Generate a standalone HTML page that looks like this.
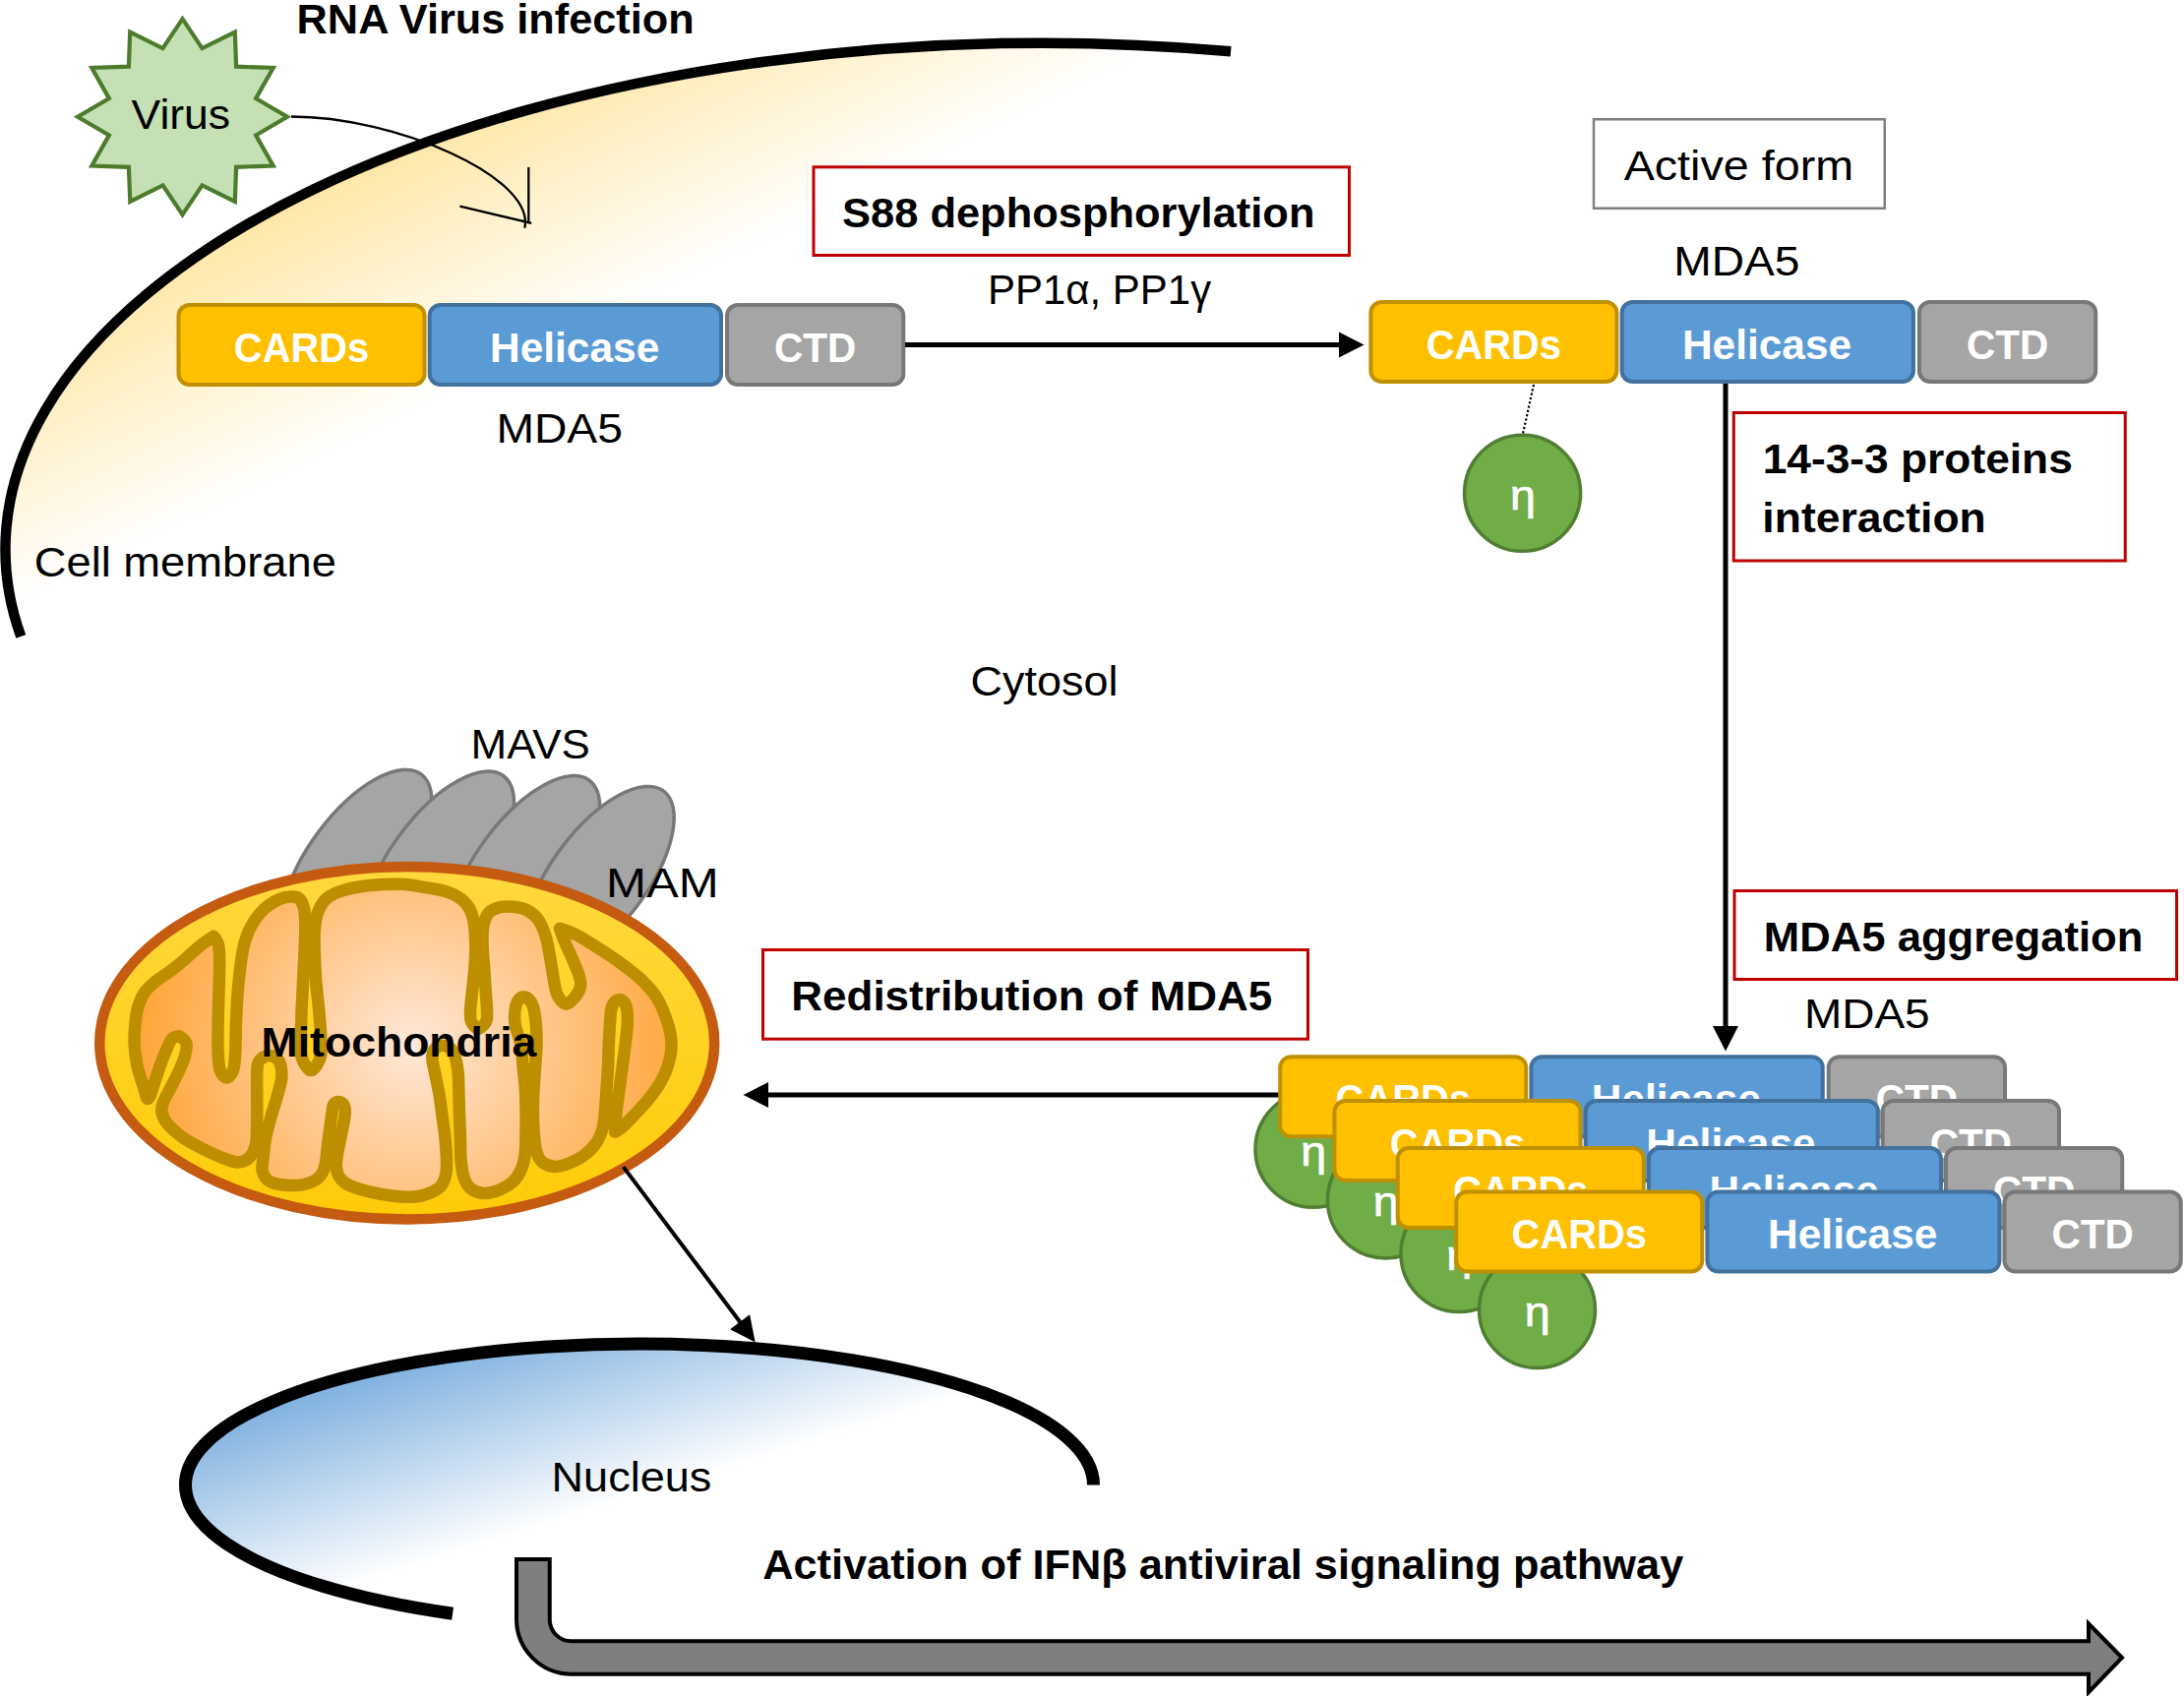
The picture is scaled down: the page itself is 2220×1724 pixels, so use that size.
<!DOCTYPE html>
<html><head><meta charset="utf-8"><style>html,body{margin:0;padding:0;background:#fff}svg{display:block}</style></head><body>
<svg width="2220" height="1724" viewBox="0 0 2220 1724" font-family="Liberation Sans, sans-serif">
<defs>
<linearGradient id="gm" gradientUnits="userSpaceOnUse" x1="0" y1="0" x2="1" y2="1" gradientTransform="translate(5.5,43.799999999999955) scale(2109.6,1029.0)"><stop offset="0" stop-color="#FFCD45"/><stop offset="0.28" stop-color="#fff"/></linearGradient>
<linearGradient id="gn" gradientUnits="userSpaceOnUse" x1="0" y1="0" x2="1" y2="1" gradientTransform="translate(188.5,1366.0) scale(923.0,287.0)"><stop offset="0" stop-color="#4A90D2"/><stop offset="0.52" stop-color="#fff"/></linearGradient>
<linearGradient id="gy" x1="0" y1="0" x2="0" y2="1"><stop offset="0" stop-color="#FFD83D"/><stop offset="1" stop-color="#FFCB08"/></linearGradient>
<radialGradient id="gc" gradientUnits="userSpaceOnUse" cx="420" cy="1062" r="300"><stop offset="0" stop-color="#FFE8DA"/><stop offset="1" stop-color="#FFA02C"/></radialGradient>
</defs>
<rect width="2220" height="1724" fill="#fff"/>
<path d="M1060.3,558.3 L1251.1,52.3 A1054.8,514.5 0 0 0 21.3,647.1 Z" fill="url(#gm)"/>
<path d="M1251.1,52.3 A1054.8,514.5 0 0 0 21.3,647.1" fill="none" stroke="#000" stroke-width="10.5"/>
<polygon points="185.5,19.2 205.5,49.1 238.8,32.6 240.1,67.7 277.7,69.0 260.1,100.1 292.0,118.8 260.1,137.4 277.7,168.5 240.1,169.8 238.8,204.9 205.5,188.4 185.5,218.2 165.5,188.4 132.3,204.9 130.9,169.8 93.3,168.5 110.9,137.4 79.0,118.8 110.9,100.1 93.3,69.0 130.9,67.7 132.2,32.6 165.5,49.1" fill="#C5E0B4" stroke="#4C7C2B" stroke-width="4.2" stroke-linejoin="miter"/>
<text x="133.56" y="131.2" font-size="43" fill="#000" textLength="100.54" lengthAdjust="spacingAndGlyphs">Virus</text>
<path d="M296,118.5 C401.9,118.5 544.5,180 533.3,231.7" fill="none" stroke="#000" stroke-width="2.3"/>
<path d="M467.4,209.6 L540.2,226.9 M537.3,170 L537.3,227.4" fill="none" stroke="#000" stroke-width="2.3"/>
<text x="301.62" y="34.0" font-size="43" fill="#000" font-weight="700" textLength="404.05" lengthAdjust="spacingAndGlyphs">RNA Virus infection</text>
<rect x="181.50" y="310.00" width="250.00" height="81.00" rx="11.0" fill="#FFC000" stroke="#BF9000" stroke-width="4"/>
<text x="237.87" y="367.5" font-size="43" fill="#fff" font-weight="700" textLength="137.27" lengthAdjust="spacingAndGlyphs">CARDs</text>
<rect x="436.70" y="310.00" width="296.30" height="81.00" rx="11.0" fill="#5B9BD5" stroke="#41719C" stroke-width="4"/>
<text x="498.01" y="367.5" font-size="43" fill="#fff" font-weight="700" textLength="172.29" lengthAdjust="spacingAndGlyphs">Helicase</text>
<rect x="739.00" y="310.00" width="179.30" height="81.00" rx="11.0" fill="#A5A5A5" stroke="#787878" stroke-width="4"/>
<text x="786.99" y="367.5" font-size="43" fill="#fff" font-weight="700" textLength="83.37" lengthAdjust="spacingAndGlyphs">CTD</text>
<text x="504.40" y="450.2" font-size="43" fill="#000" textLength="128.54" lengthAdjust="spacingAndGlyphs">MDA5</text>
<line x1="920.0" y1="350.5" x2="1363.0" y2="350.5" stroke="#000" stroke-width="5"/>
<polygon points="1386.5,350.5 1361.0,363.5 1361.0,337.5" fill="#000"/>
<rect x="827.00" y="169.80" width="544.50" height="89.70" fill="#fff" stroke="#C00000" stroke-width="3"/>
<text x="856.00" y="231.2" font-size="43" fill="#000" font-weight="700" textLength="480.45" lengthAdjust="spacingAndGlyphs">S88 dephosphorylation</text>
<text x="1004.06" y="308.8" font-size="43" fill="#000" textLength="227.08" lengthAdjust="spacingAndGlyphs">PP1α, PP1γ</text>
<rect x="1620.00" y="121.25" width="295.75" height="90.50" fill="#fff" stroke="#7F7F7F" stroke-width="2.5"/>
<text x="1650.66" y="182.5" font-size="43" fill="#000" textLength="233.42" lengthAdjust="spacingAndGlyphs">Active form</text>
<text x="1701.21" y="280.0" font-size="43" fill="#000" textLength="128.22" lengthAdjust="spacingAndGlyphs">MDA5</text>
<line x1="1754.0" y1="388.0" x2="1754.0" y2="1045.0" stroke="#000" stroke-width="5"/>
<polygon points="1754.0,1068.5 1741.0,1043.0 1767.0,1043.0" fill="#000"/>
<rect x="1393.40" y="307.00" width="250.00" height="81.00" rx="11.0" fill="#FFC000" stroke="#BF9000" stroke-width="4"/>
<text x="1449.77" y="364.5" font-size="43" fill="#fff" font-weight="700" textLength="137.27" lengthAdjust="spacingAndGlyphs">CARDs</text>
<rect x="1648.60" y="307.00" width="296.30" height="81.00" rx="11.0" fill="#5B9BD5" stroke="#41719C" stroke-width="4"/>
<text x="1709.91" y="364.5" font-size="43" fill="#fff" font-weight="700" textLength="172.29" lengthAdjust="spacingAndGlyphs">Helicase</text>
<rect x="1950.90" y="307.00" width="179.30" height="81.00" rx="11.0" fill="#A5A5A5" stroke="#787878" stroke-width="4"/>
<text x="1998.89" y="364.5" font-size="43" fill="#fff" font-weight="700" textLength="83.37" lengthAdjust="spacingAndGlyphs">CTD</text>
<line x1="1559" y1="391" x2="1548" y2="441" stroke="#000" stroke-width="2.2" stroke-dasharray="2.2 2.2"/>
<circle cx="1547.6" cy="501.3" r="59.0" fill="#70AD47" stroke="#507E32" stroke-width="3.5"/>
<text x="1534.94" y="517.6" font-size="43" fill="#fff" stroke="#fff" stroke-width="0.7" textLength="25.94" lengthAdjust="spacingAndGlyphs">η</text>
<rect x="1762.25" y="419.50" width="398.00" height="150.50" fill="#fff" stroke="#C00000" stroke-width="3"/>
<text x="1791.71" y="481.2" font-size="43" fill="#000" font-weight="700" textLength="315.11" lengthAdjust="spacingAndGlyphs">14-3-3 proteins</text>
<text x="1791.39" y="541.2" font-size="43" fill="#000" font-weight="700" textLength="227.36" lengthAdjust="spacingAndGlyphs">interaction</text>
<rect x="1763.00" y="905.50" width="449.50" height="90.00" fill="#fff" stroke="#C00000" stroke-width="3"/>
<text x="1792.83" y="967.0" font-size="43" fill="#000" font-weight="700" textLength="385.63" lengthAdjust="spacingAndGlyphs">MDA5 aggregation</text>
<text x="1833.98" y="1045.2" font-size="43" fill="#000" textLength="127.70" lengthAdjust="spacingAndGlyphs">MDA5</text>
<rect x="775.50" y="965.50" width="554.00" height="90.70" fill="#fff" stroke="#C00000" stroke-width="3"/>
<text x="804.26" y="1027.3" font-size="43" fill="#000" font-weight="700" textLength="488.97" lengthAdjust="spacingAndGlyphs">Redistribution of MDA5</text>
<line x1="1302.0" y1="1113.0" x2="779.0" y2="1113.0" stroke="#000" stroke-width="5"/>
<polygon points="755.5,1113.0 781.0,1100.0 781.0,1126.0" fill="#000"/>
<circle cx="1335" cy="1168.25" r="59.0" fill="#70AD47" stroke="#507E32" stroke-width="3.5"/>
<text x="1322.34" y="1184.5" font-size="43" fill="#fff" stroke="#fff" stroke-width="0.7" textLength="25.94" lengthAdjust="spacingAndGlyphs">η</text>
<rect x="1301.25" y="1074.20" width="250.00" height="81.00" rx="11.0" fill="#FFC000" stroke="#BF9000" stroke-width="4"/>
<text x="1357.62" y="1131.7" font-size="43" fill="#fff" font-weight="700" textLength="137.27" lengthAdjust="spacingAndGlyphs">CARDs</text>
<rect x="1556.45" y="1074.20" width="296.30" height="81.00" rx="11.0" fill="#5B9BD5" stroke="#41719C" stroke-width="4"/>
<text x="1617.76" y="1131.7" font-size="43" fill="#fff" font-weight="700" textLength="172.29" lengthAdjust="spacingAndGlyphs">Helicase</text>
<rect x="1858.75" y="1074.20" width="179.30" height="81.00" rx="11.0" fill="#A5A5A5" stroke="#787878" stroke-width="4"/>
<text x="1906.74" y="1131.7" font-size="43" fill="#fff" font-weight="700" textLength="83.37" lengthAdjust="spacingAndGlyphs">CTD</text>
<circle cx="1408.5" cy="1220" r="59.0" fill="#70AD47" stroke="#507E32" stroke-width="3.5"/>
<text x="1395.84" y="1236.3" font-size="43" fill="#fff" stroke="#fff" stroke-width="0.7" textLength="25.94" lengthAdjust="spacingAndGlyphs">η</text>
<rect x="1356.50" y="1119.00" width="250.00" height="81.00" rx="11.0" fill="#FFC000" stroke="#BF9000" stroke-width="4"/>
<text x="1412.87" y="1176.5" font-size="43" fill="#fff" font-weight="700" textLength="137.27" lengthAdjust="spacingAndGlyphs">CARDs</text>
<rect x="1611.70" y="1119.00" width="297.00" height="81.00" rx="11.0" fill="#5B9BD5" stroke="#41719C" stroke-width="4"/>
<text x="1673.36" y="1176.5" font-size="43" fill="#fff" font-weight="700" textLength="172.29" lengthAdjust="spacingAndGlyphs">Helicase</text>
<rect x="1913.70" y="1119.00" width="179.30" height="81.00" rx="11.0" fill="#A5A5A5" stroke="#787878" stroke-width="4"/>
<text x="1961.69" y="1176.5" font-size="43" fill="#fff" font-weight="700" textLength="83.37" lengthAdjust="spacingAndGlyphs">CTD</text>
<circle cx="1483" cy="1274.5" r="59.0" fill="#70AD47" stroke="#507E32" stroke-width="3.5"/>
<text x="1470.34" y="1290.8" font-size="43" fill="#fff" stroke="#fff" stroke-width="0.7" textLength="25.94" lengthAdjust="spacingAndGlyphs">η</text>
<rect x="1420.75" y="1167.00" width="250.00" height="81.00" rx="11.0" fill="#FFC000" stroke="#BF9000" stroke-width="4"/>
<text x="1477.12" y="1224.5" font-size="43" fill="#fff" font-weight="700" textLength="137.27" lengthAdjust="spacingAndGlyphs">CARDs</text>
<rect x="1675.95" y="1167.00" width="297.00" height="81.00" rx="11.0" fill="#5B9BD5" stroke="#41719C" stroke-width="4"/>
<text x="1737.61" y="1224.5" font-size="43" fill="#fff" font-weight="700" textLength="172.29" lengthAdjust="spacingAndGlyphs">Helicase</text>
<rect x="1977.95" y="1167.00" width="179.30" height="81.00" rx="11.0" fill="#A5A5A5" stroke="#787878" stroke-width="4"/>
<text x="2025.94" y="1224.5" font-size="43" fill="#fff" font-weight="700" textLength="83.37" lengthAdjust="spacingAndGlyphs">CTD</text>
<circle cx="1562.5" cy="1331.5" r="59.0" fill="#70AD47" stroke="#507E32" stroke-width="3.5"/>
<text x="1549.84" y="1347.8" font-size="43" fill="#fff" stroke="#fff" stroke-width="0.7" textLength="25.94" lengthAdjust="spacingAndGlyphs">η</text>
<rect x="1480.25" y="1211.50" width="250.00" height="81.00" rx="11.0" fill="#FFC000" stroke="#BF9000" stroke-width="4"/>
<text x="1536.62" y="1269.0" font-size="43" fill="#fff" font-weight="700" textLength="137.27" lengthAdjust="spacingAndGlyphs">CARDs</text>
<rect x="1735.45" y="1211.50" width="297.00" height="81.00" rx="11.0" fill="#5B9BD5" stroke="#41719C" stroke-width="4"/>
<text x="1797.11" y="1269.0" font-size="43" fill="#fff" font-weight="700" textLength="172.29" lengthAdjust="spacingAndGlyphs">Helicase</text>
<rect x="2037.45" y="1211.50" width="179.30" height="81.00" rx="11.0" fill="#A5A5A5" stroke="#787878" stroke-width="4"/>
<text x="2085.44" y="1269.0" font-size="43" fill="#fff" font-weight="700" textLength="83.37" lengthAdjust="spacingAndGlyphs">CTD</text>
<ellipse cx="0" cy="0" rx="108.8" ry="48.5" transform="translate(363,874.2) rotate(-53.15)" fill="#A5A5A5" stroke="#787878" stroke-width="3.5"/>
<ellipse cx="0" cy="0" rx="108.8" ry="48.5" transform="translate(446.6,875.8) rotate(-53.15)" fill="#A5A5A5" stroke="#787878" stroke-width="3.5"/>
<ellipse cx="0" cy="0" rx="108.8" ry="48.5" transform="translate(533.8,880.3) rotate(-53.15)" fill="#A5A5A5" stroke="#787878" stroke-width="3.5"/>
<ellipse cx="0" cy="0" rx="108.8" ry="48.5" transform="translate(609.3,891.2) rotate(-53.15)" fill="#A5A5A5" stroke="#787878" stroke-width="3.5"/>
<text x="478.48" y="770.5" font-size="43" fill="#000" textLength="121.48" lengthAdjust="spacingAndGlyphs">MAVS</text>
<ellipse cx="413.7" cy="1060.2" rx="312.45" ry="179.25" fill="url(#gy)" stroke="#C55A11" stroke-width="10.5"/>
<path d="M217.2,951.8 C217.2,951.8 221.4,956.9 222.3,962.1 C223.3,967.2 223.1,974.3 223.1,982.6 C223.1,990.9 222.6,1002.1 222.3,1011.9 C222.1,1021.6 221.7,1031.4 221.6,1041.2 C221.5,1050.9 221.2,1062.7 221.6,1070.5 C222.0,1078.3 222.3,1083.9 223.8,1088.1 C225.3,1092.2 228.2,1095.4 230.4,1095.4 C232.6,1095.4 235.5,1092.2 237.0,1088.1 C238.5,1083.9 238.7,1078.3 239.2,1070.5 C239.7,1062.7 239.6,1050.9 239.9,1041.2 C240.3,1031.4 240.7,1021.6 241.4,1011.9 C242.1,1002.1 243.2,991.1 244.3,982.6 C245.4,974.0 246.2,967.4 248.0,960.6 C249.8,953.7 251.9,947.6 255.3,941.5 C258.7,935.4 263.6,928.6 268.5,924.0 C273.4,919.3 280.0,915.8 284.6,913.7 C289.3,911.6 293.2,911.6 296.3,911.5 C299.5,911.4 301.6,911.1 303.7,913.0 C305.7,914.8 307.7,918.2 308.8,922.5 C309.9,926.8 310.1,931.0 310.3,938.6 C310.4,946.2 309.9,958.1 309.5,967.9 C309.2,977.7 308.5,987.4 308.1,997.2 C307.6,1007.0 307.0,1016.8 306.6,1026.5 C306.2,1036.3 305.9,1047.8 305.9,1055.8 C305.9,1063.9 304.9,1069.5 306.6,1074.9 C308.3,1080.2 312.9,1088.1 316.1,1088.1 C319.3,1088.1 323.9,1080.2 325.6,1074.9 C327.4,1069.5 326.6,1063.9 326.4,1055.8 C326.1,1047.8 325.0,1036.3 324.2,1026.5 C323.3,1016.8 322.0,1007.0 321.2,997.2 C320.5,987.4 320.0,976.5 319.8,967.9 C319.5,959.4 319.3,952.5 319.8,945.9 C320.3,939.3 320.8,933.7 322.7,928.4 C324.7,923.0 327.1,917.6 331.5,913.7 C335.9,909.8 341.3,907.2 349.1,904.9 C356.9,902.6 368.6,900.8 378.4,899.8 C388.2,898.8 398.8,898.4 407.7,898.8 C416.6,899.1 424.3,900.7 432.0,902.0 C439.7,903.2 447.9,904.4 454.0,906.4 C460.1,908.3 464.7,910.8 468.6,913.7 C472.5,916.6 475.2,919.8 477.4,924.0 C479.6,928.1 480.8,932.5 481.8,938.6 C482.8,944.7 483.1,953.3 483.3,960.6 C483.4,967.9 483.0,975.2 482.5,982.6 C482.0,989.9 481.1,997.2 480.3,1004.5 C479.6,1011.9 478.4,1020.9 478.1,1026.5 C477.9,1032.1 477.5,1035.1 478.9,1038.2 C480.2,1041.4 483.6,1045.6 486.2,1045.6 C488.8,1045.6 492.8,1041.4 494.2,1038.2 C495.7,1035.1 495.1,1032.1 495.0,1026.5 C494.9,1020.9 494.0,1011.9 493.5,1004.5 C493.0,997.2 492.5,989.9 492.1,982.6 C491.6,975.2 490.7,967.4 490.6,960.6 C490.5,953.7 490.3,946.9 491.3,941.5 C492.3,936.2 493.9,931.5 496.4,928.4 C499.0,925.2 502.6,923.6 506.7,922.5 C510.9,921.4 516.5,921.3 521.4,921.8 C526.2,922.2 531.6,923.1 536.0,925.4 C540.4,927.7 544.6,931.0 547.7,935.7 C550.9,940.3 553.1,946.7 555.1,953.3 C557.0,959.9 558.1,967.9 559.5,975.2 C560.8,982.6 561.9,991.1 563.1,997.2 C564.3,1003.3 564.7,1008.0 566.8,1011.9 C568.9,1015.8 572.4,1020.7 575.6,1020.7 C578.7,1020.7 583.4,1015.0 585.8,1011.9 C588.3,1008.7 589.9,1005.3 590.2,1001.6 C590.6,997.9 589.5,994.5 588.0,989.9 C586.6,985.3 583.7,979.1 581.4,973.8 C579.1,968.4 576.2,962.7 574.1,957.7 C572.0,952.6 569.0,943.7 569.0,943.7 C569.0,943.7 579.4,947.0 585.8,950.3 C592.3,953.6 600.5,958.9 607.8,963.5 C615.1,968.2 622.5,972.8 629.8,978.2 C637.1,983.5 645.4,989.6 651.8,995.8 C658.1,1001.9 663.5,1007.7 667.9,1014.8 C672.3,1021.9 675.7,1030.7 678.1,1038.2 C680.6,1045.8 682.3,1053.1 682.5,1060.2 C682.8,1067.4 681.3,1074.6 679.6,1081.0 C677.9,1087.4 675.7,1092.5 672.3,1098.6 C668.9,1104.7 663.7,1111.8 659.1,1117.7 C654.4,1123.5 648.8,1129.1 644.4,1133.8 C640.0,1138.4 635.9,1142.7 632.7,1145.5 C629.5,1148.3 625.1,1150.6 625.1,1150.6 C625.1,1150.6 626.1,1135.4 626.8,1127.9 C627.6,1120.5 628.8,1113.3 629.8,1105.9 C630.8,1098.6 631.7,1091.3 632.7,1084.0 C633.7,1076.6 634.8,1069.1 635.6,1062.0 C636.5,1054.8 637.5,1047.0 637.8,1041.2 C638.1,1035.4 637.9,1030.9 637.4,1027.3 C636.9,1023.6 636.2,1021.3 634.9,1019.5 C633.6,1017.7 631.6,1016.3 629.8,1016.3 C627.9,1016.3 625.4,1017.5 623.9,1019.5 C622.5,1021.4 621.7,1023.2 621.0,1028.0 C620.3,1032.8 619.9,1042.8 619.5,1048.5 C619.2,1054.2 619.0,1056.1 618.8,1062.0 C618.5,1067.9 618.4,1076.6 618.1,1084.0 C617.7,1091.3 617.1,1098.6 616.6,1105.9 C616.1,1113.3 615.7,1121.3 615.1,1127.9 C614.5,1134.5 614.4,1139.9 612.9,1145.5 C611.5,1151.1 609.6,1156.7 606.3,1161.6 C603.0,1166.5 598.3,1171.1 593.2,1174.8 C588.0,1178.5 580.7,1181.8 575.6,1183.6 C570.4,1185.4 566.5,1186.3 562.4,1185.8 C558.2,1185.3 553.6,1183.5 550.7,1180.7 C547.7,1177.9 546.1,1174.1 544.8,1168.9 C543.5,1163.8 543.1,1156.7 542.6,1149.9 C542.1,1143.1 541.9,1135.2 541.9,1127.9 C541.9,1120.6 542.2,1113.3 542.6,1105.9 C543.0,1098.6 543.6,1091.3 544.1,1084.0 C544.6,1076.6 545.4,1069.1 545.5,1062.0 C545.7,1054.8 545.3,1047.2 544.8,1041.2 C544.3,1035.1 543.6,1029.8 542.6,1025.8 C541.6,1021.8 540.6,1019.4 538.9,1017.3 C537.2,1015.2 534.4,1013.3 532.3,1013.3 C530.3,1013.3 527.9,1015.1 526.5,1017.3 C525.0,1019.5 524.0,1022.5 523.6,1026.5 C523.1,1030.5 522.6,1035.3 523.6,1041.2 C524.5,1047.1 528.1,1054.8 529.4,1062.0 C530.8,1069.1 530.9,1076.6 531.6,1084.0 C532.3,1091.3 533.3,1098.6 533.8,1105.9 C534.3,1113.3 534.4,1120.6 534.5,1127.9 C534.7,1135.2 534.7,1142.6 534.5,1149.9 C534.4,1157.2 534.5,1165.5 533.8,1171.9 C533.1,1178.2 532.2,1183.1 530.1,1188.0 C528.1,1192.9 525.3,1197.5 521.4,1201.2 C517.4,1204.8 511.6,1208.0 506.7,1210.0 C501.8,1211.9 496.7,1213.1 492.1,1212.9 C487.4,1212.6 482.3,1211.2 478.9,1208.5 C475.4,1205.8 473.2,1201.7 471.5,1196.8 C469.8,1191.9 469.2,1185.8 468.6,1179.2 C468.0,1172.6 468.1,1164.5 467.9,1157.2 C467.6,1149.9 467.4,1142.6 467.1,1135.2 C466.9,1127.9 466.7,1120.6 466.4,1113.3 C466.2,1105.9 466.3,1097.8 465.7,1091.3 C465.1,1084.8 464.0,1078.6 462.7,1074.4 C461.5,1070.2 460.5,1068.0 458.4,1066.1 C456.2,1064.1 452.4,1062.6 449.6,1062.7 C446.8,1062.8 443.2,1064.5 441.5,1066.7 C439.8,1068.9 439.2,1071.8 439.3,1075.9 C439.4,1080.0 441.0,1085.1 442.2,1091.3 C443.5,1097.5 445.4,1105.9 446.6,1113.3 C447.9,1120.6 448.6,1127.9 449.6,1135.2 C450.5,1142.6 451.8,1149.9 452.5,1157.2 C453.2,1164.5 453.8,1173.1 454.0,1179.2 C454.1,1185.3 454.2,1189.5 453.2,1193.8 C452.2,1198.2 450.9,1202.4 448.1,1205.6 C445.3,1208.7 440.8,1211.1 436.4,1212.9 C432.0,1214.7 427.7,1216.1 421.7,1216.6 C415.7,1217.0 407.6,1216.6 400.4,1215.8 C393.1,1215.1 385.7,1213.9 378.4,1212.2 C371.1,1210.5 361.8,1207.9 356.4,1205.6 C351.0,1203.2 348.6,1201.4 346.2,1198.2 C343.7,1195.1 342.2,1190.9 341.8,1186.5 C341.3,1182.1 342.5,1176.8 343.2,1171.9 C344.0,1167.0 345.2,1162.1 346.2,1157.2 C347.1,1152.3 348.3,1147.0 349.1,1142.6 C349.9,1138.2 350.8,1134.1 350.8,1130.8 C350.8,1127.5 350.2,1124.6 349.1,1122.8 C347.9,1121.0 345.6,1119.9 344.0,1119.9 C342.3,1119.9 340.2,1121.0 339.1,1122.8 C338.0,1124.6 337.9,1127.5 337.4,1130.8 C336.8,1134.1 336.6,1136.9 335.9,1142.6 C335.2,1148.2 333.9,1157.2 333.0,1164.5 C332.0,1171.9 331.7,1180.9 330.0,1186.5 C328.3,1192.1 326.4,1195.3 322.7,1198.2 C319.0,1201.2 313.4,1203.0 308.1,1204.1 C302.7,1205.2 296.1,1205.3 290.5,1204.8 C284.9,1204.3 278.3,1203.5 274.4,1201.2 C270.4,1198.9 267.9,1194.6 266.7,1190.9 C265.6,1187.3 266.8,1184.8 267.3,1179.2 C267.9,1173.6 268.7,1164.3 270.0,1157.2 C271.3,1150.1 273.1,1143.8 275.1,1136.7 C277.0,1129.6 279.9,1121.3 281.7,1114.7 C283.5,1108.1 285.4,1102.0 286.1,1097.1 C286.8,1092.3 286.4,1088.8 285.8,1085.4 C285.2,1082.1 284.4,1079.0 282.4,1076.9 C280.4,1074.8 276.6,1073.0 273.6,1073.0 C270.7,1073.0 266.9,1074.8 264.8,1076.9 C262.8,1079.0 262.1,1079.4 261.5,1085.4 C260.9,1091.5 261.2,1103.7 261.2,1113.3 C261.1,1122.8 261.4,1134.0 261.2,1142.6 C260.9,1151.1 261.2,1158.7 259.7,1164.5 C258.2,1170.4 255.6,1174.9 252.4,1177.7 C249.2,1180.5 245.3,1181.6 240.7,1181.4 C236.0,1181.1 230.9,1178.8 224.5,1176.3 C218.2,1173.7 209.2,1169.4 202.6,1166.0 C196.0,1162.6 190.4,1159.7 185.0,1155.8 C179.6,1151.8 173.7,1146.7 170.3,1142.6 C166.9,1138.4 165.2,1134.5 164.5,1130.8 C163.7,1127.2 164.5,1124.7 165.9,1120.6 C167.4,1116.4 170.6,1111.3 173.3,1105.9 C175.9,1100.6 179.6,1093.7 182.1,1088.4 C184.5,1083.0 186.7,1078.3 187.9,1073.7 C189.1,1069.1 190.4,1063.9 189.4,1060.5 C188.4,1057.1 182.1,1053.2 182.1,1053.2 C182.1,1053.2 176.9,1053.7 174.7,1056.1 C172.5,1058.6 170.8,1063.4 168.9,1067.8 C166.9,1072.2 165.0,1077.1 163.0,1082.5 C161.1,1087.9 159.2,1094.3 157.1,1100.1 C155.1,1105.8 152.5,1116.4 150.5,1116.9 C148.6,1117.4 147.3,1108.5 145.4,1103.0 C143.6,1097.5 141.0,1090.8 139.6,1084.0 C138.1,1077.1 137.0,1069.1 136.6,1062.0 C136.3,1054.8 136.8,1047.6 137.4,1041.2 C138.0,1034.8 138.7,1029.0 140.3,1023.6 C141.9,1018.2 143.8,1013.3 146.9,1008.9 C149.9,1004.5 154.2,1000.9 158.6,997.2 C163.0,993.6 168.4,990.6 173.3,987.0 C178.1,983.3 183.0,979.4 187.9,975.2 C192.8,971.1 197.7,966.0 202.6,962.1 C207.4,958.1 217.2,951.8 217.2,951.8Z" fill="url(#gc)" stroke="#BC8E00" stroke-width="12.5" stroke-linejoin="round"/>
<text x="615.97" y="911.8" font-size="43" fill="#000" textLength="114.66" lengthAdjust="spacingAndGlyphs">MAM</text>
<text x="265.62" y="1073.5" font-size="43" fill="#000" font-weight="700" textLength="279.70" lengthAdjust="spacingAndGlyphs">Mitochondria</text>
<line x1="633.6" y1="1186.1" x2="753.3" y2="1345.3" stroke="#000" stroke-width="4"/>
<polygon points="767.7,1364.5 742.1,1351.2 762.1,1336.2" fill="#000"/>
<path d="M650,1509.5 L1111.5,1509.5 A461.5,143.5 0 1 0 460.1,1640.3 Z" fill="url(#gn)"/>
<path d="M1111.5,1509.5 A461.5,143.5 0 1 0 460.1,1640.3" fill="none" stroke="#000" stroke-width="13"/>
<text x="560.61" y="1515.8" font-size="43" fill="#000" textLength="162.62" lengthAdjust="spacingAndGlyphs">Nucleus</text>
<path d="M525.0,1585.0 L558.75,1585.0 L558.75,1646.25 A22.0,22.0 0 0 0 580.75,1668.25 L2123.0,1668.25 L2123.0,1650.5 L2157.0,1685 L2123.0,1720.25 L2123.0,1701.75 L581.0,1701.75 A56.0,56.0 0 0 1 525.0,1645.75 Z" fill="#7F7F7F" stroke="#000" stroke-width="4" stroke-linejoin="miter"/>
<text x="775.17" y="1604.5" font-size="43" fill="#000" font-weight="700" textLength="936.06" lengthAdjust="spacingAndGlyphs">Activation of IFNβ antiviral signaling pathway</text>
<text x="986.52" y="707.4" font-size="43" fill="#000" textLength="149.89" lengthAdjust="spacingAndGlyphs">Cytosol</text>
<text x="34.70" y="585.8" font-size="43" fill="#000" textLength="307.32" lengthAdjust="spacingAndGlyphs">Cell membrane</text>
</svg>
</body></html>
